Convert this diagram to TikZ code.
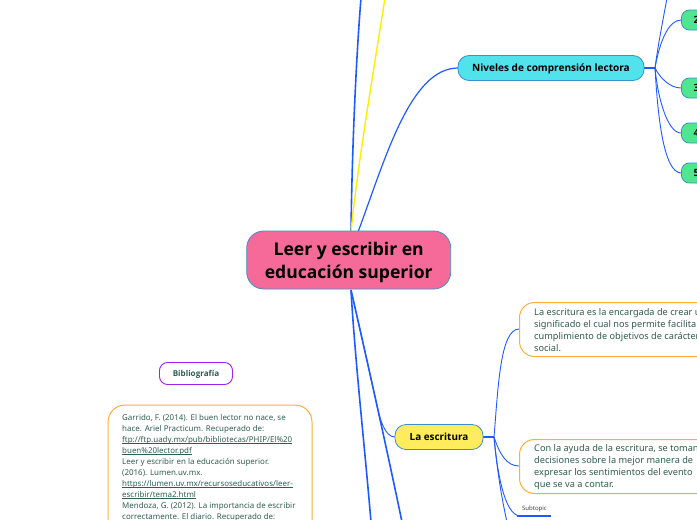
\documentclass[tikz,border=0pt]{standalone}
\usepackage{fontspec}
\setmainfont{Noto Sans}[BoldFont={Open Sans Bold}]
\definecolor{linkblue}{HTML}{1E5BFF}
\definecolor{edgeblue}{HTML}{3D8FC9}
\definecolor{rootpink}{HTML}{F56A99}
\definecolor{cyanfill}{HTML}{50E3EC}
\definecolor{greenfill}{HTML}{50E68F}
\definecolor{yellowfill}{HTML}{FFEC5C}
\definecolor{notetext}{HTML}{2F5D50}
\definecolor{noteedge}{HTML}{FFAE3D}
\definecolor{purpleedge}{HTML}{A020F0}
\newcommand\ulnk[1]{\setbox0\hbox{#1}\rlap{\rule[-1.5pt]{\wd0}{0.35pt}}\box0}
\tikzset{
 x=1pt,y=-1pt,
 link/.style={draw=linkblue,line width=0.9pt},
 thick link/.style={draw=linkblue,line width=1.8pt},
 root/.style={draw=edgeblue,fill=rootpink,rounded corners=17pt,line width=0.8pt},
 topicbox/.style={draw=edgeblue,line width=0.8pt},
 note/.style={draw=noteedge,fill=white,line width=1pt},
 sublabel/.style={text=notetext,font=\fontsize{9.2}{12}\selectfont,anchor=north west,align=left,inner sep=0pt},
}
\begin{document}
\begin{tikzpicture}
\useasboundingbox (0,0) rectangle (697,520);
\clip (0,0) rectangle (697,520);
% named anchors
\coordinate (rootT) at (351,232);
\coordinate (rootTb) at (358,232);
\coordinate (rootB) at (351,290);
\coordinate (offA) at (361,-2);
\coordinate (offY) at (385,-2);
\coordinate (offC) at (371,522);
\coordinate (offD) at (402,522);
\coordinate (offE) at (667,-2);
\coordinate (offF) at (507,522);
\coordinate (hubN) at (655,68);
\coordinate (hubE) at (494,437);
\coordinate (splitE) at (376.5,403.4);
% links
\draw[link,line width=1.6pt] (rootT) .. controls (352,150) and (356,60) .. (offA);
\draw[draw=yellow!95!orange,line width=1.4pt] (rootT) .. controls (357,170) and (372,80) .. (offY);
\draw[link,line width=1.2pt] (rootTb) .. controls (385,160) and (410,68) .. (458,68);
\draw[link,line width=1.6pt] (rootB) .. controls (355,360) and (365,450) .. (offC);
\draw[link,line width=0.9pt] (rootB) .. controls (359,325) and (367.75,363.75) .. (splitE) .. controls (380,420) and (385,437) .. (395,437);
\draw[link,line width=1.6pt] (rootB) .. controls (367,360) and (386,445) .. (offD);
% Niveles branch
\draw[thick link] (644,68) -- (hubN);
\draw[link] (hubN) .. controls (658,45) and (663,20) .. (offE);
\draw[link] (hubN) .. controls (660,40) and (669,20) .. (681,20);
\draw[link] (hubN) .. controls (660,78) and (670,88) .. (681,88);
\draw[link] (hubN) .. controls (658,100) and (668,133) .. (681,133);
\draw[link] (hubN) .. controls (658,120) and (664,172) .. (681,173);
% La escritura branch
\draw[thick link,line width=1.2pt] (483,437) -- (hubE);
\draw[link] (hubE) .. controls (498,390) and (500,329) .. (519,329);
\draw[link] (hubE) .. controls (500,455) and (507,466) .. (519,466);
\draw[link] (hubE) .. controls (497,470) and (504,515) .. (520,516);
\draw[link] (hubE) .. controls (497,470) and (502,500) .. (offF);
\draw[thick link] (517,516) -- (551,516);
% root
\node[root,minimum width=204pt,minimum height=58pt,inner sep=0pt] (main) at (348.7,260) {};
\node[font=\bfseries\fontsize{17.55}{23}\selectfont,align=center,text=black] (mainT) at (348.7,262.5) {Leer y escribir en\\educación superior};
% topics
\node[topicbox,fill=cyanfill,rounded corners=11pt,minimum width=186pt,minimum height=25pt,inner sep=0pt,text depth=0pt,font=\bfseries\fontsize{10.05}{11}\selectfont] (niv) at (551,68) {Niveles de comprensión lectora};
\node[topicbox,fill=yellowfill,rounded corners=11pt,minimum width=88pt,minimum height=25pt,inner sep=0pt,text depth=0pt,font=\bfseries\fontsize{9.9}{11}\selectfont] (esc) at (439,437) {La escritura};
% numbered green
\foreach \nm/\yy/\tx in {a/20/2,b/88/3,c/133/4,d/173/5}{
 \node[topicbox,fill=greenfill,rounded corners=8pt,minimum width=40pt,minimum height=20pt,inner sep=0pt,anchor=west] (g\nm) at (681,\yy) {};
 \node[font=\bfseries\fontsize{10}{11}\selectfont,anchor=west,inner sep=0pt] (gt\nm) at (693.5,\yy) {\tx};
}
% notes
\node[note,rounded corners=15pt,minimum width=220pt,minimum height=54pt,anchor=north west,inner sep=0pt] (n1) at (519,302) {};
\node[sublabel] (n1t) at (534,308) {La escritura es la encargada de crear un\\significado el cual nos permite facilitar el\\cumplimiento de objetivos de carácter\\social.};
\node[note,rounded corners=15pt,minimum width=220pt,minimum height=54pt,anchor=north west,inner sep=0pt] (n2) at (519,439) {};
\node[sublabel] (n2t) at (534,444.5) {Con la ayuda de la escritura, se toman\\decisiones sobre la mejor manera de\\expresar los sentimientos del evento\\que se va a contar.};
\node[font=\fontsize{6}{7}\selectfont,text=black!75,inner sep=0pt,anchor=west] (sub) at (522,509) {Subtopic};
% bibliography
\node[draw=purpleedge,line width=0.9pt,rounded corners=8pt,minimum width=73pt,minimum height=22pt,inner sep=0pt,text depth=0pt,font=\bfseries\fontsize{8.1}{9}\selectfont,text=notetext] (bib) at (196,373.5) {Bibliografía};
\node[note,rounded corners=17pt,minimum width=204pt,minimum height=140pt,anchor=north west,inner sep=0pt] (refs) at (107.5,404.5) {};
\node[anchor=north west,inner sep=0pt,text=notetext,font=\fontsize{7.95}{11}\selectfont,align=left] (refst) at (122,414) {%
Garrido, F. (2014). El buen lector no nace, se\\
hace. Ariel Practicum. Recuperado de:\\
\ulnk{ftp://ftp.uady.mx/pub/bibliotecas/PHIP/El\%20}\\
\ulnk{buen\%20lector.pdf}\\
Leer y escribir en la educación superior.\\
(2016). Lumen.uv.mx.\\
\ulnk{https://lumen.uv.mx/recursoseducativos/leer-}\\
\ulnk{escribir/tema2.html}\\
Mendoza, G. (2012). La importancia de escribir\\
correctamente. El diario. Recuperado de:};
\end{tikzpicture}
\end{document}
